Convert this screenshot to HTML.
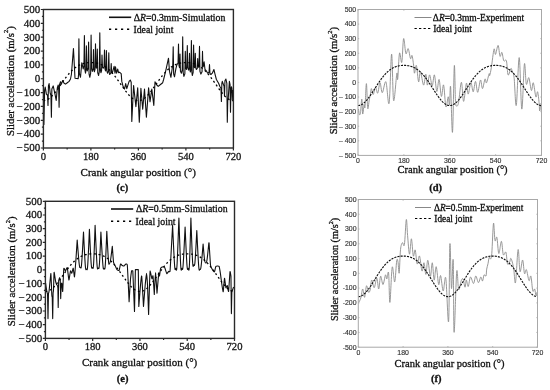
<!DOCTYPE html><html><head><meta charset="utf-8"><style>html,body{margin:0;padding:0;background:#fff}svg{display:block}.s{font-family:"Liberation Serif",serif;stroke:#111;stroke-width:0.3px}.a{font-family:"Liberation Sans",sans-serif;stroke:#333;stroke-width:0.15px}</style></head><body>
<svg width="550" height="390" viewBox="0 0 550 390">
<rect width="550" height="390" fill="#fff"/>
<path d="M43.5,96 L43.9,124.5 L44.6,90 L45.2,87 L46.4,94.1 L47.55,95.24 L48,105.5 L48.45,85.79 L49.1,83.6 L50.2,93.2 L50.95,95.61 L51.4,117.3 L51.85,89.04 L53.2,85.9 L55,94.1 L56.2,100.5 L57.3,88 L58.2,85 L58.65,87.23 L59.1,107.3 L59.55,84.35 L60.5,81.8 L61.4,84.1 L62.7,80.5 L64.1,83.2 L65.5,84.1 L67.3,82.7 L69.1,81.4 L70.5,79 L71.4,74.5 L73.45,48.5 L75,78.2 L78.2,78.6 L78.55,74.62 L78.9,38.8 L79.35,73.45 L80.5,77.3 L81.8,62.7 L83.2,69 L83.95,65.65 L84.4,35.5 L84.85,69.43 L85.5,73.2 L85.95,70.47 L86.4,45.9 L86.85,68.4 L87.3,70.9 L88.15,68.02 L88.6,42.1 L89.05,73.78 L89.8,77.3 L90.65,73.07 L91.1,35 L91.55,67.76 L92.3,71.4 L93.05,69.21 L93.5,49.5 L93.95,69.57 L94.4,71.8 L95.05,69.01 L95.5,43.9 L95.95,65.77 L96.4,68.2 L96.85,66.29 L97.3,49.1 L97.75,72.86 L98.6,75.5 L99.35,71.22 L99.8,32.7 L100.25,68.7 L100.9,72.7 L101.55,70.93 L102,55 L102.45,66.88 L103.2,68.2 L104.05,66.38 L104.5,50 L104.95,68.81 L105.5,70.9 L105.95,68.86 L106.4,50.5 L106.85,70.93 L107.5,73.2 L108.35,71.15 L108.8,52.7 L109.2,72.32 L109.6,74.5 L110.75,73.41 L111.2,63.6 L111.65,72.24 L112.3,73.2 L114.1,66.4 L115,73.2 L115.5,66.8 L116.6,73.2 L117.7,69.1 L118.6,72.7 L119.5,72.3 L121.2,73.6 L121.8,81.4 L123.2,86.8 L124.5,89.1 L125.7,83.6 L126.8,88.6 L129.1,81.4 L130.3,80 L131.2,82.3 L131.8,121.4 L133.6,85.5 L135.9,106.8 L137.7,87.7 L139.3,122.3 L140.9,88.2 L142.7,109.1 L144.5,89.1 L146.4,117.3 L148.6,87.7 L150,101.8 L151.8,89.1 L153.8,105.5 L155,81.8 L156.4,84.5 L158.2,86.4 L160.5,84.5 L162.7,82.7 L163.6,79.5 L165.5,71.8 L166.8,65.9 L168.5,58.2 L169.5,71.4 L170.9,77.3 L172.3,67.7 L172.75,65.61 L173.2,46.8 L173.65,73.8 L174.5,76.8 L175.9,68.6 L176.8,65 L178.05,62.91 L178.5,44.1 L178.95,65.34 L179.5,67.7 L179.75,66.34 L180,54.1 L180.45,71.29 L181.4,73.2 L182.25,69.56 L182.7,36.8 L183.15,72.44 L183.9,76.4 L184.85,73.9 L185.3,51.4 L185.75,67.69 L186.4,69.5 L186.85,67.1 L187.3,45.5 L187.75,67.55 L188.5,70 L189.05,68.32 L189.5,53.2 L189.95,70.12 L190.4,72 L190.95,68.85 L191.4,40.5 L191.85,72 L192.3,75.5 L193.15,72.45 L193.6,45 L194.05,65.43 L194.5,67.7 L194.9,66.25 L195.3,53.2 L195.75,67.87 L196.4,69.5 L197.25,68.41 L197.7,58.6 L198.15,66.43 L198.6,67.3 L199.05,65.21 L199.5,46.4 L199.95,71.33 L200.9,74.1 L202.05,71.83 L202.5,51.4 L202.85,65.26 L203.2,66.8 L204.1,61.8 L205,69.5 L206.4,70.9 L207.7,73.2 L209.05,72.33 L209.5,64.5 L209.95,73.5 L210.9,74.5 L212.3,73.2 L213.9,69.5 L215,74.1 L216.4,79.5 L218.6,83.2 L220,86.8 L220.95,88.26 L221.4,101.4 L221.85,83.4 L222.3,81.4 L223.6,85 L224.05,86.09 L224.5,95.9 L224.95,80.78 L225.9,79.1 L226.85,83.42 L227.3,122.3 L227.75,100.97 L228.2,98.6 L229.4,81.4 L230.05,84.49 L230.5,112.3 L230.95,89.35 L231.4,86.8 L231.85,88.12 L232.3,100 L232.65,91 L233,90" fill="none" stroke="#111" stroke-width="1.1" stroke-linejoin="round"/>
<path d="M43.4,100.63 L44.19,100.59 L44.98,100.46 L45.77,100.26 L46.57,99.97 L47.36,99.6 L48.15,99.16 L48.94,98.64 L49.73,98.05 L50.52,97.39 L51.32,96.66 L52.11,95.88 L52.9,95.03 L53.69,94.14 L54.48,93.2 L55.27,92.22 L56.07,91.2 L56.86,90.14 L57.65,89.07 L58.44,87.97 L59.23,86.85 L60.02,85.73 L60.82,84.6 L61.61,83.47 L62.4,82.34 L63.19,81.22 L63.98,80.12 L64.78,79.03 L65.57,77.97 L66.36,76.92 L67.15,75.91 L67.94,74.93 L68.73,73.98 L69.53,73.07 L70.32,72.2 L71.11,71.36 L71.9,70.57 L72.69,69.82 L73.48,69.11 L74.28,68.44 L75.07,67.81 L75.86,67.22 L76.65,66.68 L77.44,66.18 L78.23,65.71 L79.03,65.28 L79.82,64.89 L80.61,64.54 L81.4,64.22 L82.19,63.93 L82.98,63.68 L83.78,63.45 L84.57,63.25 L85.36,63.08 L86.15,62.93 L86.94,62.81 L87.73,62.71 L88.53,62.64 L89.32,62.59 L90.11,62.55 L90.9,62.54 L91.69,62.55 L92.48,62.59 L93.28,62.64 L94.07,62.71 L94.86,62.81 L95.65,62.93 L96.44,63.08 L97.23,63.25 L98.03,63.45 L98.82,63.68 L99.61,63.93 L100.4,64.22 L101.19,64.54 L101.98,64.89 L102.78,65.28 L103.57,65.71 L104.36,66.18 L105.15,66.68 L105.94,67.22 L106.73,67.81 L107.53,68.44 L108.32,69.11 L109.11,69.82 L109.9,70.57 L110.69,71.36 L111.48,72.2 L112.28,73.07 L113.07,73.98 L113.86,74.93 L114.65,75.91 L115.44,76.92 L116.23,77.97 L117.03,79.03 L117.82,80.12 L118.61,81.22 L119.4,82.34 L120.19,83.47 L120.98,84.6 L121.78,85.73 L122.57,86.85 L123.36,87.97 L124.15,89.07 L124.94,90.14 L125.73,91.2 L126.53,92.22 L127.32,93.2 L128.11,94.14 L128.9,95.03 L129.69,95.88 L130.48,96.66 L131.28,97.39 L132.07,98.05 L132.86,98.64 L133.65,99.16 L134.44,99.6 L135.23,99.97 L136.03,100.26 L136.82,100.46 L137.61,100.59 L138.4,100.63 L139.19,100.59 L139.98,100.46 L140.78,100.26 L141.57,99.97 L142.36,99.6 L143.15,99.16 L143.94,98.64 L144.73,98.05 L145.53,97.39 L146.32,96.66 L147.11,95.88 L147.9,95.03 L148.69,94.14 L149.48,93.2 L150.28,92.22 L151.07,91.2 L151.86,90.14 L152.65,89.07 L153.44,87.97 L154.23,86.85 L155.03,85.73 L155.82,84.6 L156.61,83.47 L157.4,82.34 L158.19,81.22 L158.98,80.12 L159.78,79.03 L160.57,77.97 L161.36,76.92 L162.15,75.91 L162.94,74.93 L163.73,73.98 L164.53,73.07 L165.32,72.2 L166.11,71.36 L166.9,70.57 L167.69,69.82 L168.48,69.11 L169.28,68.44 L170.07,67.81 L170.86,67.22 L171.65,66.68 L172.44,66.18 L173.23,65.71 L174.03,65.28 L174.82,64.89 L175.61,64.54 L176.4,64.22 L177.19,63.93 L177.98,63.68 L178.78,63.45 L179.57,63.25 L180.36,63.08 L181.15,62.93 L181.94,62.81 L182.73,62.71 L183.53,62.64 L184.32,62.59 L185.11,62.55 L185.9,62.54 L186.69,62.55 L187.48,62.59 L188.28,62.64 L189.07,62.71 L189.86,62.81 L190.65,62.93 L191.44,63.08 L192.23,63.25 L193.03,63.45 L193.82,63.68 L194.61,63.93 L195.4,64.22 L196.19,64.54 L196.98,64.89 L197.78,65.28 L198.57,65.71 L199.36,66.18 L200.15,66.68 L200.94,67.22 L201.73,67.81 L202.53,68.44 L203.32,69.11 L204.11,69.82 L204.9,70.57 L205.69,71.36 L206.48,72.2 L207.28,73.07 L208.07,73.98 L208.86,74.93 L209.65,75.91 L210.44,76.92 L211.23,77.97 L212.03,79.03 L212.82,80.12 L213.61,81.22 L214.4,82.34 L215.19,83.47 L215.98,84.6 L216.78,85.73 L217.57,86.85 L218.36,87.97 L219.15,89.07 L219.94,90.14 L220.73,91.2 L221.53,92.22 L222.32,93.2 L223.11,94.14 L223.9,95.03 L224.69,95.88 L225.48,96.66 L226.28,97.39 L227.07,98.05 L227.86,98.64 L228.65,99.16 L229.44,99.6 L230.23,99.97 L231.03,100.26 L231.82,100.46 L232.61,100.59 L233.4,100.63" fill="none" stroke="#000" stroke-width="1.3" stroke-dasharray="1.9,2.7"/>
<rect x="43.4" y="9.5" width="190" height="138.5" fill="none" stroke="#2a2a2a" stroke-width="1.4"/>
<path d="M43.4,148 h-2.6 M43.4,141.07 h-1.5 M43.4,134.15 h-2.6 M43.4,127.22 h-1.5 M43.4,120.3 h-2.6 M43.4,113.38 h-1.5 M43.4,106.45 h-2.6 M43.4,99.53 h-1.5 M43.4,92.6 h-2.6 M43.4,85.67 h-1.5 M43.4,78.75 h-2.6 M43.4,71.83 h-1.5 M43.4,64.9 h-2.6 M43.4,57.98 h-1.5 M43.4,51.05 h-2.6 M43.4,44.12 h-1.5 M43.4,37.2 h-2.6 M43.4,30.27 h-1.5 M43.4,23.35 h-2.6 M43.4,16.43 h-1.5 M43.4,9.5 h-2.6 M43.4,148 v2.6 M67.15,148 v1.5 M90.9,148 v2.6 M114.65,148 v1.5 M138.4,148 v2.6 M162.15,148 v1.5 M185.9,148 v2.6 M209.65,148 v1.5 M233.4,148 v2.6" stroke="#2a2a2a" stroke-width="1.2" fill="none"/>
<text class="s" x="40.2" y="151.3" font-size="11" text-anchor="end" fill="#222">&#8722;<tspan dx="1.3">500</tspan></text>
<text class="s" x="40.2" y="137.45" font-size="11" text-anchor="end" fill="#222">&#8722;<tspan dx="1.3">400</tspan></text>
<text class="s" x="40.2" y="123.6" font-size="11" text-anchor="end" fill="#222">&#8722;<tspan dx="1.3">300</tspan></text>
<text class="s" x="40.2" y="109.75" font-size="11" text-anchor="end" fill="#222">&#8722;<tspan dx="1.3">200</tspan></text>
<text class="s" x="40.2" y="95.9" font-size="11" text-anchor="end" fill="#222">&#8722;<tspan dx="1.3">100</tspan></text>
<text class="s" x="40.2" y="82.05" font-size="11" text-anchor="end" fill="#222">0</text>
<text class="s" x="40.2" y="68.2" font-size="11" text-anchor="end" fill="#222">100</text>
<text class="s" x="40.2" y="54.35" font-size="11" text-anchor="end" fill="#222">200</text>
<text class="s" x="40.2" y="40.5" font-size="11" text-anchor="end" fill="#222">300</text>
<text class="s" x="40.2" y="26.65" font-size="11" text-anchor="end" fill="#222">400</text>
<text class="s" x="40.2" y="12.8" font-size="11" text-anchor="end" fill="#222">500</text>
<text class="s" x="43.4" y="159.6" font-size="10.6" text-anchor="middle" fill="#222">0</text>
<text class="s" x="90.9" y="159.6" font-size="10.6" text-anchor="middle" fill="#222">180</text>
<text class="s" x="138.4" y="159.6" font-size="10.6" text-anchor="middle" fill="#222">360</text>
<text class="s" x="185.9" y="159.6" font-size="10.6" text-anchor="middle" fill="#222">540</text>
<text class="s" x="233.4" y="159.6" font-size="10.6" text-anchor="middle" fill="#222">720</text>
<path d="M45.6,283 C45.68,283.56 46.67,290.66 46.8,291.4 C46.93,292.14 47.55,294.12 47.55,294.12 C47.55,294.12 48,318.6 48,318.6 C48,318.6 48.45,293.67 48.45,293.67 C48.45,293.67 48.94,292.24 49.1,290.9 C49.26,289.56 50.72,273.33 50.9,273.6 C51.08,273.87 51.71,293.42 51.8,295 C51.89,296.58 52.25,297.36 52.25,297.36 C52.25,297.36 52.7,318.6 52.7,318.6 C52.7,318.6 53.1,292.86 53.1,292.86 C53.1,292.86 53.43,291.37 53.5,290 C53.57,288.63 53.97,272.91 54.1,272.3 C54.23,271.69 55.35,280.12 55.5,280.9 C55.65,281.68 56.26,283.66 56.4,284 C56.54,284.34 57.5,285.72 57.6,286 C57.7,286.28 57.9,288.15 57.9,288.15 C57.9,288.15 58.2,307.5 58.2,307.5 C58.2,307.5 58.65,280.68 58.65,280.68 C58.65,280.68 59.39,277.76 59.5,277.7 C59.61,277.64 60.25,279.79 60.25,279.79 C60.25,279.79 60.7,298.6 60.7,298.6 C60.7,298.6 61.15,284.74 61.15,284.74 C61.15,284.74 61.7,282.76 61.8,283.2 C61.9,283.64 62.57,292.37 62.7,291.4 C62.83,290.43 63.61,269.97 63.8,268.6 C63.99,267.23 65.27,270.96 65.5,270.9 C65.73,270.84 67.07,267.09 67.3,267.7 C67.53,268.31 68.69,279.79 68.9,280 C69.11,280.21 70.31,271.35 70.5,270.9 C70.69,270.45 71.62,273.38 71.8,273.2 C71.98,273.02 73.02,267.96 73.2,268.2 C73.38,268.44 74.32,277.35 74.5,276.8 C74.68,276.25 75.72,262.45 75.9,260 C76.08,257.55 77.2,240 77.2,240 C77.2,240 78.67,259.42 79.2,264 C79.73,268.58 80,267.5 80.4,267.5 C80.8,267.5 81.08,269.9 81.6,264 C82.12,258.1 83.5,232.1 83.5,232.1 C83.5,232.1 84.8,259.35 85.3,265.5 C85.8,271.65 86.1,269 86.5,269 C86.9,269 87.22,272.1 87.7,265.5 C88.18,258.9 89.4,229.4 89.4,229.4 C89.4,229.4 90.7,257.65 91.2,264 C91.7,270.35 92,267.5 92.4,267.5 C92.8,267.5 93.15,271.05 93.6,264 C94.05,256.95 95.1,225.2 95.1,225.2 C95.1,225.2 96.48,257.37 97,264.5 C97.52,271.63 97.8,268 98.2,268 C98.6,268 98.95,270.48 99.4,264.5 C99.85,258.52 100.9,232.1 100.9,232.1 C100.9,232.1 102.37,258.93 102.9,265 C103.43,271.07 103.7,268.5 104.1,268.5 C104.5,268.5 104.85,271.22 105.3,265 C105.75,258.78 106.8,231.2 106.8,231.2 C106.8,231.2 108.05,255.62 108.5,261 C108.95,266.38 109.17,263.58 109.5,263.5 C109.83,263.42 110.03,263.35 110.5,260.5 C110.97,257.65 112.3,246.4 112.3,246.4 C112.3,246.4 113.39,261.37 113.6,262.7 C113.81,264.03 115.29,265.95 115.5,266.4 C115.71,266.85 116.56,269.23 116.8,269.5 C117.04,269.77 118.85,270.86 119.1,270.5 C119.35,270.14 120.29,264.43 120.5,264.1 C120.71,263.77 122.06,265.38 122.3,265.5 C122.54,265.62 123.86,265.99 124.1,265.9 C124.34,265.81 125.69,264.16 125.9,264.1 C126.11,264.04 127.15,263.81 127.3,265 C127.45,266.19 128.08,279.55 128.2,282 C128.32,284.45 129.1,301.8 129.1,301.8 C129.1,301.8 130.33,281.07 130.5,279 C130.67,276.93 131.6,270.7 131.6,270.7 C131.6,270.7 132.8,270.7 132.8,270.7 C132.8,270.7 134.5,311.4 134.5,311.4 C134.5,311.4 135.4,269.6 135.4,269.6 C135.4,269.6 138.3,269.6 138.3,269.6 C138.3,269.6 138.8,306.4 138.8,306.4 C138.8,306.4 140.31,287.01 140.5,285 C140.69,282.99 141.5,274.77 141.7,276.2 C141.9,277.63 143.5,306.4 143.5,306.4 C143.5,306.4 145,287.21 145.2,285 C145.4,282.79 146.35,273.3 146.5,273.3 C146.65,273.3 147.36,282.25 147.5,285 C147.64,287.75 148.6,314.5 148.6,314.5 C148.6,314.5 149.4,287.89 149.5,285 C149.6,282.11 149.94,271.52 150.1,271.1 C150.26,270.68 151.71,278.37 151.9,278.7 C152.09,279.03 152.84,274.95 153,276 C153.16,277.05 154.3,294.5 154.3,294.5 C154.3,294.5 155.32,272.99 155.5,272.9 C155.68,272.81 157,293.2 157,293.2 C157,293.2 158.63,274.05 158.8,272.9 C158.97,271.75 159.38,276.29 159.5,276 C159.62,275.71 160.43,269.09 160.6,268.5 C160.77,267.91 161.85,267.2 162.1,267.1 C162.35,267 164.11,266.93 164.3,267 C164.49,267.07 164.83,267.76 165,268.2 C165.17,268.64 166.56,273.39 166.8,273.6 C167.04,273.81 168.39,271.55 168.6,271.4 C168.81,271.25 169.85,272.26 170,271.4 C170.15,270.54 170.63,261.57 170.8,258.5 C170.97,255.43 172.6,225.3 172.6,225.3 C172.6,225.3 174.07,258.32 174.6,265.5 C175.13,272.68 175.4,268.4 175.8,268.4 C176.2,268.4 176.48,273.88 177,265.5 C177.52,257.12 178.9,218.1 178.9,218.1 C178.9,218.1 180.2,257.12 180.7,265.5 C181.2,273.88 181.5,268.4 181.9,268.4 C182.3,268.4 182.57,272.38 183.1,265.5 C183.63,258.62 185.1,227.1 185.1,227.1 C185.1,227.1 186.48,258.62 187,265.5 C187.52,272.38 187.8,268.4 188.2,268.4 C188.6,268.4 188.95,273.88 189.4,265.5 C189.85,257.12 190.9,218.1 190.9,218.1 C190.9,218.1 192.12,254.22 192.6,262 C193.08,269.78 193.4,264.8 193.8,264.8 C194.2,264.8 194.5,267.7 195,262 C195.5,256.3 196.8,230.6 196.8,230.6 C196.8,230.6 198.18,259.87 198.7,266.3 C199.22,272.73 199.5,269.2 199.9,269.2 C200.3,269.2 200.57,270.48 201.1,266.3 C201.63,262.12 203.1,244.1 203.1,244.1 C203.1,244.1 204.15,256.85 204.6,260 C205.05,263.15 205.4,263 205.8,263 C206.2,263 206.5,263.3 207,260 C207.5,256.7 208.8,243.2 208.8,243.2 C208.8,243.2 208.99,242.15 209.1,243.6 C209.21,245.05 210.32,263.33 210.5,265 C210.68,266.67 211.62,268.21 211.8,268.6 C211.98,268.99 213.02,270.69 213.2,270.9 C213.38,271.11 214.32,272.1 214.5,271.8 C214.68,271.5 215.59,266.76 215.9,266.4 C216.21,266.04 218.79,265.89 219.1,266.4 C219.41,266.91 220.32,272.92 220.5,274.1 C220.68,275.28 221.62,282.92 221.8,284.1 C221.98,285.28 223.02,292.19 223.2,291.8 C223.38,291.41 224.32,278.47 224.5,278.2 C224.68,277.93 225.71,287.21 225.9,287.7 C226.09,288.19 227.12,285.25 227.3,285.5 C227.48,285.75 228.42,292.31 228.6,291.4 C228.78,290.49 229.84,272.83 230,271.8 C230.16,270.77 230.95,275.98 230.95,275.98 C230.95,275.98 231.4,313.6 231.4,313.6 C231.4,313.6 231.85,292.36 231.85,292.36 C231.85,292.36 232.38,290.36 232.5,290 C232.62,289.64 233.53,287.2 233.6,287" fill="none" stroke="#111" stroke-width="1.1" stroke-linejoin="round"/>
<path d="M45.4,291.51 L46.19,291.47 L46.98,291.35 L47.76,291.14 L48.55,290.86 L49.34,290.49 L50.13,290.05 L50.92,289.54 L51.7,288.95 L52.49,288.3 L53.28,287.58 L54.07,286.8 L54.85,285.97 L55.64,285.08 L56.43,284.15 L57.22,283.18 L58.01,282.17 L58.79,281.13 L59.58,280.06 L60.37,278.97 L61.16,277.87 L61.95,276.76 L62.73,275.64 L63.52,274.52 L64.31,273.4 L65.1,272.3 L65.89,271.2 L66.67,270.13 L67.46,269.07 L68.25,268.04 L69.04,267.04 L69.83,266.07 L70.61,265.13 L71.4,264.23 L72.19,263.36 L72.98,262.54 L73.77,261.75 L74.55,261.01 L75.34,260.3 L76.13,259.64 L76.92,259.02 L77.7,258.44 L78.49,257.9 L79.28,257.4 L80.07,256.94 L80.86,256.52 L81.64,256.13 L82.43,255.78 L83.22,255.47 L84.01,255.18 L84.8,254.93 L85.58,254.7 L86.37,254.51 L87.16,254.34 L87.95,254.19 L88.74,254.07 L89.52,253.98 L90.31,253.9 L91.1,253.85 L91.89,253.82 L92.67,253.81 L93.46,253.82 L94.25,253.85 L95.04,253.9 L95.83,253.98 L96.61,254.07 L97.4,254.19 L98.19,254.34 L98.98,254.51 L99.77,254.7 L100.55,254.93 L101.34,255.18 L102.13,255.47 L102.92,255.78 L103.71,256.13 L104.49,256.52 L105.28,256.94 L106.07,257.4 L106.86,257.9 L107.65,258.44 L108.43,259.02 L109.22,259.64 L110.01,260.3 L110.8,261.01 L111.59,261.75 L112.37,262.54 L113.16,263.36 L113.95,264.23 L114.74,265.13 L115.52,266.07 L116.31,267.04 L117.1,268.04 L117.89,269.07 L118.68,270.13 L119.46,271.2 L120.25,272.3 L121.04,273.4 L121.83,274.52 L122.62,275.64 L123.4,276.76 L124.19,277.87 L124.98,278.97 L125.77,280.06 L126.56,281.13 L127.34,282.17 L128.13,283.18 L128.92,284.15 L129.71,285.08 L130.5,285.97 L131.28,286.8 L132.07,287.58 L132.86,288.3 L133.65,288.95 L134.43,289.54 L135.22,290.05 L136.01,290.49 L136.8,290.86 L137.59,291.14 L138.37,291.35 L139.16,291.47 L139.95,291.51 L140.74,291.47 L141.53,291.35 L142.31,291.14 L143.1,290.86 L143.89,290.49 L144.68,290.05 L145.47,289.54 L146.25,288.95 L147.04,288.3 L147.83,287.58 L148.62,286.8 L149.4,285.97 L150.19,285.08 L150.98,284.15 L151.77,283.18 L152.56,282.17 L153.34,281.13 L154.13,280.06 L154.92,278.97 L155.71,277.87 L156.5,276.76 L157.28,275.64 L158.07,274.52 L158.86,273.4 L159.65,272.3 L160.44,271.2 L161.22,270.13 L162.01,269.07 L162.8,268.04 L163.59,267.04 L164.38,266.07 L165.16,265.13 L165.95,264.23 L166.74,263.36 L167.53,262.54 L168.31,261.75 L169.1,261.01 L169.89,260.3 L170.68,259.64 L171.47,259.02 L172.25,258.44 L173.04,257.9 L173.83,257.4 L174.62,256.94 L175.41,256.52 L176.19,256.13 L176.98,255.78 L177.77,255.47 L178.56,255.18 L179.35,254.93 L180.13,254.7 L180.92,254.51 L181.71,254.34 L182.5,254.19 L183.29,254.07 L184.07,253.98 L184.86,253.9 L185.65,253.85 L186.44,253.82 L187.22,253.81 L188.01,253.82 L188.8,253.85 L189.59,253.9 L190.38,253.98 L191.16,254.07 L191.95,254.19 L192.74,254.34 L193.53,254.51 L194.32,254.7 L195.1,254.93 L195.89,255.18 L196.68,255.47 L197.47,255.78 L198.26,256.13 L199.04,256.52 L199.83,256.94 L200.62,257.4 L201.41,257.9 L202.2,258.44 L202.98,259.02 L203.77,259.64 L204.56,260.3 L205.35,261.01 L206.13,261.75 L206.92,262.54 L207.71,263.36 L208.5,264.23 L209.29,265.13 L210.07,266.07 L210.86,267.04 L211.65,268.04 L212.44,269.07 L213.23,270.13 L214.01,271.2 L214.8,272.3 L215.59,273.4 L216.38,274.52 L217.17,275.64 L217.95,276.76 L218.74,277.87 L219.53,278.97 L220.32,280.06 L221.11,281.13 L221.89,282.17 L222.68,283.18 L223.47,284.15 L224.26,285.08 L225.04,285.97 L225.83,286.8 L226.62,287.58 L227.41,288.3 L228.2,288.95 L228.98,289.54 L229.77,290.05 L230.56,290.49 L231.35,290.86 L232.14,291.14 L232.92,291.35 L233.71,291.47 L234.5,291.51" fill="none" stroke="#000" stroke-width="1.3" stroke-dasharray="1.9,2.7"/>
<rect x="45.4" y="201.3" width="189.1" height="137.1" fill="none" stroke="#2a2a2a" stroke-width="1.4"/>
<path d="M45.4,338.4 h-2.6 M45.4,331.54 h-1.5 M45.4,324.69 h-2.6 M45.4,317.83 h-1.5 M45.4,310.98 h-2.6 M45.4,304.12 h-1.5 M45.4,297.27 h-2.6 M45.4,290.41 h-1.5 M45.4,283.56 h-2.6 M45.4,276.7 h-1.5 M45.4,269.85 h-2.6 M45.4,263 h-1.5 M45.4,256.14 h-2.6 M45.4,249.28 h-1.5 M45.4,242.43 h-2.6 M45.4,235.57 h-1.5 M45.4,228.72 h-2.6 M45.4,221.87 h-1.5 M45.4,215.01 h-2.6 M45.4,208.16 h-1.5 M45.4,201.3 h-2.6 M45.4,338.4 v2.6 M69.04,338.4 v1.5 M92.67,338.4 v2.6 M116.31,338.4 v1.5 M139.95,338.4 v2.6 M163.59,338.4 v1.5 M187.22,338.4 v2.6 M210.86,338.4 v1.5 M234.5,338.4 v2.6" stroke="#2a2a2a" stroke-width="1.2" fill="none"/>
<text class="s" x="42.2" y="341.7" font-size="11" text-anchor="end" fill="#222">&#8722;<tspan dx="1.3">500</tspan></text>
<text class="s" x="42.2" y="327.99" font-size="11" text-anchor="end" fill="#222">&#8722;<tspan dx="1.3">400</tspan></text>
<text class="s" x="42.2" y="314.28" font-size="11" text-anchor="end" fill="#222">&#8722;<tspan dx="1.3">300</tspan></text>
<text class="s" x="42.2" y="300.57" font-size="11" text-anchor="end" fill="#222">&#8722;<tspan dx="1.3">200</tspan></text>
<text class="s" x="42.2" y="286.86" font-size="11" text-anchor="end" fill="#222">&#8722;<tspan dx="1.3">100</tspan></text>
<text class="s" x="42.2" y="273.15" font-size="11" text-anchor="end" fill="#222">0</text>
<text class="s" x="42.2" y="259.44" font-size="11" text-anchor="end" fill="#222">100</text>
<text class="s" x="42.2" y="245.73" font-size="11" text-anchor="end" fill="#222">200</text>
<text class="s" x="42.2" y="232.02" font-size="11" text-anchor="end" fill="#222">300</text>
<text class="s" x="42.2" y="218.31" font-size="11" text-anchor="end" fill="#222">400</text>
<text class="s" x="42.2" y="204.6" font-size="11" text-anchor="end" fill="#222">500</text>
<text class="s" x="45.4" y="350" font-size="10.6" text-anchor="middle" fill="#222">0</text>
<text class="s" x="92.67" y="350" font-size="10.6" text-anchor="middle" fill="#222">180</text>
<text class="s" x="139.95" y="350" font-size="10.6" text-anchor="middle" fill="#222">360</text>
<text class="s" x="187.22" y="350" font-size="10.6" text-anchor="middle" fill="#222">540</text>
<text class="s" x="234.5" y="350" font-size="10.6" text-anchor="middle" fill="#222">720</text>
<path d="M358.5,109 C358.63,109.92 358.97,113.88 359.3,114.5 C359.63,115.12 360.08,115.27 360.5,112.7 C360.92,110.13 361.43,98.88 361.8,99.1 C362.17,99.32 362.32,113.1 362.7,114 C363.08,114.9 363.72,105.67 364.1,104.5 C364.48,103.33 364.62,110.48 365,107 C365.38,103.52 365.95,83.4 366.4,83.6 C366.85,83.8 367.25,105.32 367.7,108.2 C368.15,111.08 368.63,103.33 369.1,100.9 C369.57,98.47 370.12,95.65 370.5,93.6 C370.88,91.55 370.95,88.45 371.4,88.6 C371.85,88.75 372.52,94.72 373.2,94.5 C373.88,94.28 374.75,87.52 375.5,87.3 C376.25,87.08 376.95,93.97 377.7,93.2 C378.45,92.43 379.23,82.78 380,82.7 C380.77,82.62 381.32,92.85 382.3,92.7 C383.28,92.55 384.77,80.05 385.9,81.8 C387.03,83.55 388.15,107.82 389.1,103.2 C390.05,98.58 390.85,54.55 391.6,54.1 C392.35,53.65 392.73,97.25 393.6,100.5 C394.47,103.75 396.12,77.17 396.8,73.6 C397.48,70.03 397.25,82.5 397.7,79.1 C398.15,75.7 398.82,56 399.5,53.2 C400.18,50.4 401.12,64.73 401.8,62.3 C402.48,59.87 402.92,40.05 403.6,38.6 C404.28,37.15 405.13,51.93 405.9,53.6 C406.67,55.27 407.43,47.77 408.2,48.6 C408.97,49.43 409.87,57.45 410.5,58.6 C411.13,59.75 411.48,54.43 412,55.5 C412.52,56.57 413.18,62.05 413.6,65 C414.02,67.95 414.03,73.12 414.5,73.2 C414.97,73.28 415.72,64.07 416.4,65.5 C417.08,66.93 417.93,80.77 418.6,81.8 C419.27,82.83 419.57,71.15 420.4,71.7 C421.23,72.25 422.7,84.68 423.6,85.1 C424.5,85.52 425.17,74.2 425.8,74.2 C426.43,74.2 426.77,84.98 427.4,85.1 C428.03,85.22 428.8,74.78 429.6,74.9 C430.4,75.02 431.4,85.8 432.2,85.8 C433,85.8 433.63,73.97 434.4,74.9 C435.17,75.83 436.02,90.63 436.8,91.4 C437.58,92.17 438.33,78.67 439.1,79.5 C439.87,80.33 440.65,95.48 441.4,96.4 C442.15,97.32 442.85,83.27 443.6,85 C444.35,86.73 445.13,104.83 445.9,106.8 C446.67,108.77 447.6,97.1 448.2,96.8 C448.8,96.5 449.1,106.67 449.5,105 C449.9,103.33 450.1,82.27 450.6,86.8 C451.1,91.33 451.88,135.68 452.5,132.2 C453.12,128.72 453.8,71.03 454.3,65.9 C454.8,60.77 455.08,94.73 455.5,101.4 C455.92,108.07 456.28,105.75 456.8,105.9 C457.32,106.05 457.83,106.23 458.6,102.3 C459.37,98.37 460.57,82.45 461.4,82.3 C462.23,82.15 462.77,101.25 463.6,101.4 C464.43,101.55 465.63,84.42 466.4,83.2 C467.17,81.98 467.45,94.18 468.2,94.1 C468.95,94.02 470.07,83.08 470.9,82.7 C471.73,82.32 472.43,92.02 473.2,91.8 C473.97,91.58 474.75,81.32 475.5,81.4 C476.25,81.48 476.87,92.53 477.7,92.3 C478.53,92.07 479.7,80.62 480.5,80 C481.3,79.38 481.75,88.77 482.5,88.6 C483.25,88.43 484.33,79.97 485,79 C485.67,78.03 485.82,83.67 486.5,82.8 C487.18,81.93 488.57,75.02 489.1,73.8 C489.63,72.58 489.32,76.6 489.7,75.5 C490.08,74.4 490.68,71.58 491.4,67.2 C492.12,62.82 493.32,51.33 494,49.2 C494.68,47.07 494.82,55.03 495.5,54.4 C496.18,53.77 497.35,45.08 498.1,45.4 C498.85,45.72 499.37,55.13 500,56.3 C500.63,57.47 501.27,51.65 501.9,52.4 C502.53,53.15 503.05,59.4 503.8,60.8 C504.55,62.2 505.68,58.45 506.4,60.8 C507.12,63.15 507.35,73.62 508.1,74.9 C508.85,76.18 510.22,69.1 510.9,68.5 C511.58,67.9 511.67,69.77 512.2,71.3 C512.73,72.83 513.42,72.03 514.1,77.7 C514.78,83.37 515.45,108.65 516.3,105.3 C517.15,101.95 518.28,56.97 519.2,57.6 C520.12,58.23 520.93,108.03 521.8,109.1 C522.67,110.17 523.65,68.17 524.4,64 C525.15,59.83 525.57,81.82 526.3,84.1 C527.03,86.38 527.95,76.63 528.8,77.7 C529.65,78.77 530.65,89.65 531.4,90.5 C532.15,91.35 532.55,81.73 533.3,82.8 C534.05,83.87 535.18,95.4 535.9,96.9 C536.62,98.4 537.07,90.83 537.6,91.8 C538.13,92.77 538.75,99.5 539.1,102.7 C539.45,105.9 539.38,110.95 539.7,111 C540.02,111.05 540.78,104.33 541,103" fill="none" stroke="#8c8c8c" stroke-width="0.9" stroke-linejoin="round"/>
<path d="M358,105.5 L358.76,105.46 L359.53,105.33 L360.29,105.11 L361.06,104.8 L361.82,104.42 L362.59,103.95 L363.35,103.4 L364.12,102.78 L364.88,102.08 L365.65,101.32 L366.41,100.49 L367.18,99.6 L367.94,98.66 L368.7,97.67 L369.47,96.64 L370.23,95.56 L371,94.45 L371.76,93.32 L372.53,92.16 L373.29,90.99 L374.06,89.8 L374.82,88.61 L375.59,87.42 L376.35,86.23 L377.11,85.05 L377.88,83.89 L378.64,82.75 L379.41,81.62 L380.17,80.53 L380.94,79.46 L381.7,78.43 L382.47,77.43 L383.23,76.47 L384,75.55 L384.76,74.67 L385.52,73.83 L386.29,73.04 L387.05,72.29 L387.82,71.59 L388.58,70.92 L389.35,70.31 L390.11,69.73 L390.88,69.2 L391.64,68.71 L392.41,68.26 L393.17,67.85 L393.94,67.48 L394.7,67.14 L395.46,66.84 L396.23,66.57 L396.99,66.33 L397.76,66.12 L398.52,65.94 L399.29,65.79 L400.05,65.66 L400.82,65.56 L401.58,65.48 L402.35,65.42 L403.11,65.39 L403.88,65.38 L404.64,65.39 L405.4,65.42 L406.17,65.48 L406.93,65.56 L407.7,65.66 L408.46,65.79 L409.23,65.94 L409.99,66.12 L410.76,66.33 L411.52,66.57 L412.29,66.84 L413.05,67.14 L413.81,67.48 L414.58,67.85 L415.34,68.26 L416.11,68.71 L416.87,69.2 L417.64,69.73 L418.4,70.31 L419.17,70.92 L419.93,71.59 L420.7,72.29 L421.46,73.04 L422.23,73.83 L422.99,74.67 L423.75,75.55 L424.52,76.47 L425.28,77.43 L426.05,78.43 L426.81,79.46 L427.58,80.53 L428.34,81.62 L429.11,82.75 L429.87,83.89 L430.64,85.05 L431.4,86.23 L432.16,87.42 L432.93,88.61 L433.69,89.8 L434.46,90.99 L435.22,92.16 L435.99,93.32 L436.75,94.45 L437.52,95.56 L438.28,96.64 L439.05,97.67 L439.81,98.66 L440.57,99.6 L441.34,100.49 L442.1,101.32 L442.87,102.08 L443.63,102.78 L444.4,103.4 L445.16,103.95 L445.93,104.42 L446.69,104.8 L447.46,105.11 L448.22,105.33 L448.99,105.46 L449.75,105.5 L450.51,105.46 L451.28,105.33 L452.04,105.11 L452.81,104.8 L453.57,104.42 L454.34,103.95 L455.1,103.4 L455.87,102.78 L456.63,102.08 L457.4,101.32 L458.16,100.49 L458.93,99.6 L459.69,98.66 L460.45,97.67 L461.22,96.64 L461.98,95.56 L462.75,94.45 L463.51,93.32 L464.28,92.16 L465.04,90.99 L465.81,89.8 L466.57,88.61 L467.34,87.42 L468.1,86.23 L468.86,85.05 L469.63,83.89 L470.39,82.75 L471.16,81.62 L471.92,80.53 L472.69,79.46 L473.45,78.43 L474.22,77.43 L474.98,76.47 L475.75,75.55 L476.51,74.67 L477.27,73.83 L478.04,73.04 L478.8,72.29 L479.57,71.59 L480.33,70.92 L481.1,70.31 L481.86,69.73 L482.63,69.2 L483.39,68.71 L484.16,68.26 L484.92,67.85 L485.69,67.48 L486.45,67.14 L487.21,66.84 L487.98,66.57 L488.74,66.33 L489.51,66.12 L490.27,65.94 L491.04,65.79 L491.8,65.66 L492.57,65.56 L493.33,65.48 L494.1,65.42 L494.86,65.39 L495.62,65.38 L496.39,65.39 L497.15,65.42 L497.92,65.48 L498.68,65.56 L499.45,65.66 L500.21,65.79 L500.98,65.94 L501.74,66.12 L502.51,66.33 L503.27,66.57 L504.04,66.84 L504.8,67.14 L505.56,67.48 L506.33,67.85 L507.09,68.26 L507.86,68.71 L508.62,69.2 L509.39,69.73 L510.15,70.31 L510.92,70.92 L511.68,71.59 L512.45,72.29 L513.21,73.04 L513.98,73.83 L514.74,74.67 L515.5,75.55 L516.27,76.47 L517.03,77.43 L517.8,78.43 L518.56,79.46 L519.33,80.53 L520.09,81.62 L520.86,82.75 L521.62,83.89 L522.39,85.05 L523.15,86.23 L523.91,87.42 L524.68,88.61 L525.44,89.8 L526.21,90.99 L526.97,92.16 L527.74,93.32 L528.5,94.45 L529.27,95.56 L530.03,96.64 L530.8,97.67 L531.56,98.66 L532.33,99.6 L533.09,100.49 L533.85,101.32 L534.62,102.08 L535.38,102.78 L536.15,103.4 L536.91,103.95 L537.68,104.42 L538.44,104.8 L539.21,105.11 L539.97,105.33 L540.74,105.46 L541.5,105.5" fill="none" stroke="#111" stroke-width="1.15" stroke-dasharray="2.1,1.1"/>
<rect x="358" y="9.5" width="183.5" height="145.9" fill="none" stroke="#a8a8a8" stroke-width="1"/>
<path d="M358,155.4 h1.2 M541.5,155.4 h-1.2 M358,140.81 h1.2 M541.5,140.81 h-1.2 M358,126.22 h1.2 M541.5,126.22 h-1.2 M358,111.63 h1.2 M541.5,111.63 h-1.2 M358,97.04 h1.2 M541.5,97.04 h-1.2 M358,82.45 h1.2 M541.5,82.45 h-1.2 M358,67.86 h1.2 M541.5,67.86 h-1.2 M358,53.27 h1.2 M541.5,53.27 h-1.2 M358,38.68 h1.2 M541.5,38.68 h-1.2 M358,24.09 h1.2 M541.5,24.09 h-1.2 M358,9.5 h1.2 M541.5,9.5 h-1.2 M358,155.4 v-1.2 M358,9.5 v1.2 M403.88,155.4 v-1.2 M403.88,9.5 v1.2 M449.75,155.4 v-1.2 M449.75,9.5 v1.2 M495.62,155.4 v-1.2 M495.62,9.5 v1.2 M541.5,155.4 v-1.2 M541.5,9.5 v1.2" stroke="#a8a8a8" stroke-width="0.8" fill="none"/>
<text class="a" x="356.2" y="157.75" font-size="6.9" text-anchor="end" fill="#333">&#8211; 500</text>
<text class="a" x="356.2" y="143.16" font-size="6.9" text-anchor="end" fill="#333">&#8211; 400</text>
<text class="a" x="356.2" y="128.57" font-size="6.9" text-anchor="end" fill="#333">&#8211; 300</text>
<text class="a" x="356.2" y="113.98" font-size="6.9" text-anchor="end" fill="#333">&#8211; 200</text>
<text class="a" x="356.2" y="99.39" font-size="6.9" text-anchor="end" fill="#333">&#8211; 100</text>
<text class="a" x="356.2" y="84.8" font-size="6.9" text-anchor="end" fill="#333">0</text>
<text class="a" x="356.2" y="70.21" font-size="6.9" text-anchor="end" fill="#333">100</text>
<text class="a" x="356.2" y="55.62" font-size="6.9" text-anchor="end" fill="#333">200</text>
<text class="a" x="356.2" y="41.03" font-size="6.9" text-anchor="end" fill="#333">300</text>
<text class="a" x="356.2" y="26.44" font-size="6.9" text-anchor="end" fill="#333">400</text>
<text class="a" x="356.2" y="11.85" font-size="6.9" text-anchor="end" fill="#333">500</text>
<text class="a" x="358" y="162.7" font-size="6.9" text-anchor="middle" fill="#333">0</text>
<text class="a" x="403.88" y="162.7" font-size="6.9" text-anchor="middle" fill="#333">180</text>
<text class="a" x="449.75" y="162.7" font-size="6.9" text-anchor="middle" fill="#333">360</text>
<text class="a" x="495.62" y="162.7" font-size="6.9" text-anchor="middle" fill="#333">540</text>
<text class="a" x="541.5" y="162.7" font-size="6.9" text-anchor="middle" fill="#333">720</text>
<path d="M358.8,302.4 C359.13,301.67 360.15,300.23 360.8,298 C361.45,295.77 362.07,289.12 362.7,289 C363.33,288.88 363.97,297.83 364.6,297.3 C365.23,296.77 365.85,286.65 366.5,285.8 C367.15,284.95 367.9,291.5 368.5,292.2 C369.1,292.9 369.57,292.03 370.1,290 C370.63,287.97 371.02,280.38 371.7,280 C372.38,279.62 373.35,288.02 374.2,287.7 C375.05,287.38 376.05,277.88 376.8,278.1 C377.55,278.32 378.07,289.32 378.7,289 C379.33,288.68 379.88,276.95 380.6,276.2 C381.32,275.45 382.18,284.72 383,284.5 C383.82,284.28 384.87,275.82 385.5,274.9 C386.13,273.98 386.28,279.32 386.8,279 C387.32,278.68 388.08,269.1 388.6,273 C389.12,276.9 389.3,303.37 389.9,302.4 C390.5,301.43 391.4,270.62 392.2,267.2 C393,263.78 393.95,282.97 394.7,281.9 C395.45,280.83 396.15,264.12 396.7,260.8 C397.25,257.48 397.58,259.97 398,262 C398.42,264.03 398.78,275.05 399.2,273 C399.62,270.95 399.97,254.75 400.5,249.7 C401.03,244.65 401.75,243.55 402.4,242.7 C403.05,241.85 403.75,248.45 404.4,244.6 C405.05,240.75 405.77,221.1 406.3,219.6 C406.83,218.1 407.07,229.83 407.6,235.6 C408.13,241.37 408.87,253.67 409.5,254.2 C410.13,254.73 410.77,238.5 411.4,238.8 C412.03,239.1 412.67,254.13 413.3,256 C413.93,257.87 414.55,248.67 415.2,250 C415.85,251.33 416.48,263 417.2,264 C417.92,265 418.7,254.83 419.5,256 C420.3,257.17 421.25,269.87 422,271 C422.75,272.13 423.35,262.23 424,262.8 C424.65,263.37 425.27,274.82 425.9,274.4 C426.53,273.98 427.05,259.98 427.8,260.3 C428.55,260.62 429.65,275.88 430.4,276.3 C431.15,276.72 431.67,262.17 432.3,262.8 C432.93,263.43 433.55,279.45 434.2,280.1 C434.85,280.75 435.45,265.95 436.2,266.7 C436.95,267.45 437.97,283.12 438.7,284.6 C439.43,286.08 439.85,274.53 440.6,275.6 C441.35,276.67 442.33,290.57 443.2,291 C444.07,291.43 444.9,273.13 445.8,278.2 C446.7,283.27 447.92,327.1 448.6,321.4 C449.28,315.7 449.42,249.48 449.9,244 C450.38,238.52 450.95,285.78 451.5,288.5 C452.05,291.22 452.77,253 453.2,260.3 C453.63,267.6 453.52,330.38 454.1,332.3 C454.68,334.22 455.95,278.9 456.7,271.8 C457.45,264.7 457.85,288.2 458.6,289.7 C459.35,291.2 460.45,282.58 461.2,280.8 C461.95,279.02 462.47,277.93 463.1,279 C463.73,280.07 464.47,287.03 465,287.2 C465.53,287.37 465.77,280.12 466.3,280 C466.83,279.88 467.5,287 468.2,286.5 C468.9,286 469.62,277.5 470.5,277 C471.38,276.5 472.62,283.67 473.5,283.5 C474.38,283.33 474.98,276.15 475.8,276 C476.62,275.85 477.57,282.43 478.4,282.6 C479.23,282.77 480.12,277.27 480.8,277 C481.48,276.73 481.95,281.35 482.5,281 C483.05,280.65 483.52,275.73 484.1,274.9 C484.68,274.07 485.57,276.97 486,276 C486.43,275.03 486.37,271.15 486.7,269.1 C487.03,267.05 487.58,265.67 488,263.7 C488.42,261.73 488.78,258.08 489.2,257.3 C489.62,256.52 490.07,259.63 490.5,259 C490.93,258.37 491.3,259.45 491.8,253.5 C492.3,247.55 492.97,225.45 493.5,223.3 C494.03,221.15 494.43,238.25 495,240.6 C495.57,242.95 496.27,235.25 496.9,237.4 C497.53,239.55 498.05,252.85 498.8,253.5 C499.55,254.15 500.65,241.1 501.4,241.3 C502.15,241.5 502.55,252.88 503.3,254.7 C504.05,256.52 505.2,250.65 505.9,252.2 C506.6,253.75 506.87,262.37 507.5,264 C508.13,265.63 509.12,262.92 509.7,262 C510.28,261.08 510.35,257.53 511,258.5 C511.65,259.47 512.85,263.78 513.6,267.8 C514.35,271.82 514.75,285.63 515.5,282.6 C516.25,279.57 517.35,251.42 518.1,249.6 C518.85,247.78 519.25,269.97 520,271.7 C520.75,273.43 521.85,259.68 522.6,260 C523.35,260.32 523.87,271.98 524.5,273.6 C525.13,275.22 525.65,268.53 526.4,269.7 C527.15,270.87 528.25,279.52 529,280.6 C529.75,281.68 530.27,274.48 530.9,276.2 C531.53,277.92 532.17,288.77 532.8,290.9 C533.43,293.03 534.17,288.15 534.7,289 C535.23,289.85 535.62,295.5 536,296 C536.38,296.5 536.83,292.67 537,292" fill="none" stroke="#8c8c8c" stroke-width="0.9" stroke-linejoin="round"/>
<path d="M358.3,296.68 L359.05,296.64 L359.79,296.51 L360.54,296.29 L361.29,295.98 L362.03,295.59 L362.78,295.11 L363.53,294.56 L364.27,293.93 L365.02,293.22 L365.77,292.45 L366.51,291.61 L367.26,290.72 L368.01,289.76 L368.75,288.76 L369.5,287.71 L370.25,286.62 L370.99,285.5 L371.74,284.35 L372.49,283.18 L373.23,281.99 L373.98,280.79 L374.73,279.59 L375.47,278.38 L376.22,277.18 L376.97,275.99 L377.71,274.81 L378.46,273.65 L379.21,272.51 L379.95,271.4 L380.7,270.32 L381.45,269.28 L382.19,268.27 L382.94,267.3 L383.69,266.36 L384.43,265.47 L385.18,264.63 L385.93,263.82 L386.67,263.06 L387.42,262.35 L388.17,261.68 L388.91,261.06 L389.66,260.48 L390.41,259.94 L391.15,259.44 L391.9,258.99 L392.65,258.57 L393.39,258.2 L394.14,257.85 L394.89,257.55 L395.63,257.28 L396.38,257.03 L397.13,256.82 L397.87,256.64 L398.62,256.48 L399.37,256.35 L400.11,256.25 L400.86,256.17 L401.61,256.11 L402.35,256.08 L403.1,256.07 L403.85,256.08 L404.59,256.11 L405.34,256.17 L406.09,256.25 L406.83,256.35 L407.58,256.48 L408.33,256.64 L409.07,256.82 L409.82,257.03 L410.57,257.28 L411.31,257.55 L412.06,257.85 L412.81,258.2 L413.55,258.57 L414.3,258.99 L415.05,259.44 L415.79,259.94 L416.54,260.48 L417.29,261.06 L418.03,261.68 L418.78,262.35 L419.53,263.06 L420.27,263.82 L421.02,264.63 L421.77,265.47 L422.51,266.36 L423.26,267.3 L424.01,268.27 L424.75,269.28 L425.5,270.32 L426.25,271.4 L426.99,272.51 L427.74,273.65 L428.49,274.81 L429.23,275.99 L429.98,277.18 L430.73,278.38 L431.47,279.59 L432.22,280.79 L432.97,281.99 L433.71,283.18 L434.46,284.35 L435.21,285.5 L435.95,286.62 L436.7,287.71 L437.45,288.76 L438.19,289.76 L438.94,290.72 L439.69,291.61 L440.43,292.45 L441.18,293.22 L441.93,293.93 L442.67,294.56 L443.42,295.11 L444.17,295.59 L444.91,295.98 L445.66,296.29 L446.41,296.51 L447.15,296.64 L447.9,296.68 L448.65,296.64 L449.39,296.51 L450.14,296.29 L450.89,295.98 L451.63,295.59 L452.38,295.11 L453.13,294.56 L453.87,293.93 L454.62,293.22 L455.37,292.45 L456.11,291.61 L456.86,290.72 L457.61,289.76 L458.35,288.76 L459.1,287.71 L459.85,286.62 L460.59,285.5 L461.34,284.35 L462.09,283.18 L462.83,281.99 L463.58,280.79 L464.33,279.59 L465.07,278.38 L465.82,277.18 L466.57,275.99 L467.31,274.81 L468.06,273.65 L468.81,272.51 L469.55,271.4 L470.3,270.32 L471.05,269.28 L471.79,268.27 L472.54,267.3 L473.29,266.36 L474.03,265.47 L474.78,264.63 L475.53,263.82 L476.27,263.06 L477.02,262.35 L477.77,261.68 L478.51,261.06 L479.26,260.48 L480.01,259.94 L480.75,259.44 L481.5,258.99 L482.25,258.57 L482.99,258.2 L483.74,257.85 L484.49,257.55 L485.23,257.28 L485.98,257.03 L486.73,256.82 L487.47,256.64 L488.22,256.48 L488.97,256.35 L489.71,256.25 L490.46,256.17 L491.21,256.11 L491.95,256.08 L492.7,256.07 L493.45,256.08 L494.19,256.11 L494.94,256.17 L495.69,256.25 L496.43,256.35 L497.18,256.48 L497.93,256.64 L498.67,256.82 L499.42,257.03 L500.17,257.28 L500.91,257.55 L501.66,257.85 L502.41,258.2 L503.15,258.57 L503.9,258.99 L504.65,259.44 L505.39,259.94 L506.14,260.48 L506.89,261.06 L507.63,261.68 L508.38,262.35 L509.13,263.06 L509.87,263.82 L510.62,264.63 L511.37,265.47 L512.11,266.36 L512.86,267.3 L513.61,268.27 L514.35,269.28 L515.1,270.32 L515.85,271.4 L516.59,272.51 L517.34,273.65 L518.09,274.81 L518.83,275.99 L519.58,277.18 L520.33,278.38 L521.07,279.59 L521.82,280.79 L522.57,281.99 L523.31,283.18 L524.06,284.35 L524.81,285.5 L525.55,286.62 L526.3,287.71 L527.05,288.76 L527.79,289.76 L528.54,290.72 L529.29,291.61 L530.03,292.45 L530.78,293.22 L531.53,293.93 L532.27,294.56 L533.02,295.11 L533.77,295.59 L534.51,295.98 L535.26,296.29 L536.01,296.51 L536.75,296.64 L537.5,296.68" fill="none" stroke="#111" stroke-width="1.15" stroke-dasharray="2.1,1.1"/>
<rect x="358.3" y="199.5" width="179.2" height="147.7" fill="none" stroke="#a8a8a8" stroke-width="1"/>
<path d="M358.3,347.2 h1.2 M537.5,347.2 h-1.2 M358.3,332.43 h1.2 M537.5,332.43 h-1.2 M358.3,317.66 h1.2 M537.5,317.66 h-1.2 M358.3,302.89 h1.2 M537.5,302.89 h-1.2 M358.3,288.12 h1.2 M537.5,288.12 h-1.2 M358.3,273.35 h1.2 M537.5,273.35 h-1.2 M358.3,258.58 h1.2 M537.5,258.58 h-1.2 M358.3,243.81 h1.2 M537.5,243.81 h-1.2 M358.3,229.04 h1.2 M537.5,229.04 h-1.2 M358.3,214.27 h1.2 M537.5,214.27 h-1.2 M358.3,199.5 h1.2 M537.5,199.5 h-1.2 M358.3,347.2 v-1.2 M358.3,199.5 v1.2 M403.1,347.2 v-1.2 M403.1,199.5 v1.2 M447.9,347.2 v-1.2 M447.9,199.5 v1.2 M492.7,347.2 v-1.2 M492.7,199.5 v1.2 M537.5,347.2 v-1.2 M537.5,199.5 v1.2" stroke="#a8a8a8" stroke-width="0.8" fill="none"/>
<text class="a" x="356.5" y="349.55" font-size="6.9" text-anchor="end" fill="#333">-500</text>
<text class="a" x="356.5" y="334.78" font-size="6.9" text-anchor="end" fill="#333">-400</text>
<text class="a" x="356.5" y="320.01" font-size="6.9" text-anchor="end" fill="#333">-300</text>
<text class="a" x="356.5" y="305.24" font-size="6.9" text-anchor="end" fill="#333">-200</text>
<text class="a" x="356.5" y="290.47" font-size="6.9" text-anchor="end" fill="#333">-100</text>
<text class="a" x="356.5" y="275.7" font-size="6.9" text-anchor="end" fill="#333">0</text>
<text class="a" x="356.5" y="260.93" font-size="6.9" text-anchor="end" fill="#333">100</text>
<text class="a" x="356.5" y="246.16" font-size="6.9" text-anchor="end" fill="#333">200</text>
<text class="a" x="356.5" y="231.39" font-size="6.9" text-anchor="end" fill="#333">300</text>
<text class="a" x="356.5" y="216.62" font-size="6.9" text-anchor="end" fill="#333">400</text>
<text class="a" x="356.5" y="201.85" font-size="6.9" text-anchor="end" fill="#333">500</text>
<text class="a" x="358.3" y="354.5" font-size="6.9" text-anchor="middle" fill="#333">0</text>
<text class="a" x="403.1" y="354.5" font-size="6.9" text-anchor="middle" fill="#333">180</text>
<text class="a" x="447.9" y="354.5" font-size="6.9" text-anchor="middle" fill="#333">360</text>
<text class="a" x="492.7" y="354.5" font-size="6.9" text-anchor="middle" fill="#333">540</text>
<text class="a" x="537.5" y="354.5" font-size="6.9" text-anchor="middle" fill="#333">720</text>
<path d="M109,17.3 H131.2" stroke="#111" stroke-width="1.6"/>
<path d="M109,29.3 H131.2" stroke="#000" stroke-width="1.5" stroke-dasharray="2.2,3.8"/>
<text class="s" x="133.8" y="20.7" font-size="9.8" fill="#111">&#916;<tspan font-style="italic">R</tspan>=0.3mm-Simulation</text>
<text class="s" x="133.4" y="33.3" font-size="9.8" fill="#111">Ideal joint</text>
<path d="M111,209 H133.2" stroke="#111" stroke-width="1.6"/>
<path d="M111,221.2 H133.2" stroke="#000" stroke-width="1.5" stroke-dasharray="2.2,3.8"/>
<text class="s" x="136" y="212.4" font-size="9.8" fill="#111">&#916;<tspan font-style="italic">R</tspan>=0.5mm-Simulation</text>
<text class="s" x="135.6" y="225.2" font-size="9.8" fill="#111">Ideal joint</text>
<path d="M414.5,17.5 H431.5" stroke="#888" stroke-width="1.0"/>
<path d="M414.5,28.5 H431.5" stroke="#000" stroke-width="1.1" stroke-dasharray="2.3,2.2"/>
<text class="s" x="432.8" y="20.9" font-size="9.5" fill="#111">&#916;<tspan font-style="italic">R</tspan>=0.3mm-Experiment</text>
<text class="s" x="433.2" y="31.9" font-size="9.5" fill="#111">Ideal joint</text>
<path d="M415,207.5 H431" stroke="#888" stroke-width="1.0"/>
<path d="M415,218.5 H431" stroke="#000" stroke-width="1.1" stroke-dasharray="2.3,2.2"/>
<text class="s" x="433.9" y="210.9" font-size="9.3" fill="#111">&#916;<tspan font-style="italic">R</tspan>=0.5mm-Experiment</text>
<text class="s" x="434.3" y="222.2" font-size="9.3" fill="#111">Ideal joint</text>
<text class="s" transform="translate(13.7,81.1) rotate(-90)" font-size="10.85" text-anchor="middle" fill="#111">Slider acceleration (m/s<tspan font-size="6.51" dy="-5.42">2</tspan><tspan dy="5.42">)</tspan></text>
<text class="s" transform="translate(15.3,271.3) rotate(-90)" font-size="10.85" text-anchor="middle" fill="#111">Slider acceleration (m/s<tspan font-size="6.51" dy="-5.42">2</tspan><tspan dy="5.42">)</tspan></text>
<text class="s" transform="translate(336.5,80.7) rotate(-90)" font-size="10.6" text-anchor="middle" fill="#111">Slider acceleration (m/s<tspan font-size="6.36" dy="-4.45">2</tspan><tspan dy="4.45">)</tspan></text>
<text class="s" transform="translate(338,269.4) rotate(-90)" font-size="10.2" text-anchor="middle" fill="#111">Slider acceleration (m/s<tspan font-size="6.12" dy="-5.1">2</tspan><tspan dy="5.1">)</tspan></text>
<text class="s" x="138.2" y="175.8" font-size="11" text-anchor="middle" fill="#111">Crank angular position (&#176;)</text>
<text class="s" x="139.6" y="366.2" font-size="11" text-anchor="middle" fill="#111">Crank angular position (&#176;)</text>
<text class="s" x="452.6" y="172.8" font-size="10.5" text-anchor="middle" fill="#111">Crank angular position (&#176;)</text>
<text class="s" x="449.5" y="366.6" font-size="10.5" text-anchor="middle" fill="#111">Crank angular position (&#176;)</text>
<text class="s" x="122.4" y="191" font-size="10.5" font-weight="bold" text-anchor="middle" fill="#111">(c)</text>
<text class="s" x="122.6" y="382.3" font-size="10.5" font-weight="bold" text-anchor="middle" fill="#111">(e)</text>
<text class="s" x="435.6" y="190.6" font-size="10.5" font-weight="bold" text-anchor="middle" fill="#111">(d)</text>
<text class="s" x="436.3" y="382" font-size="10.5" font-weight="bold" text-anchor="middle" fill="#111">(f)</text>
</svg></body></html>
